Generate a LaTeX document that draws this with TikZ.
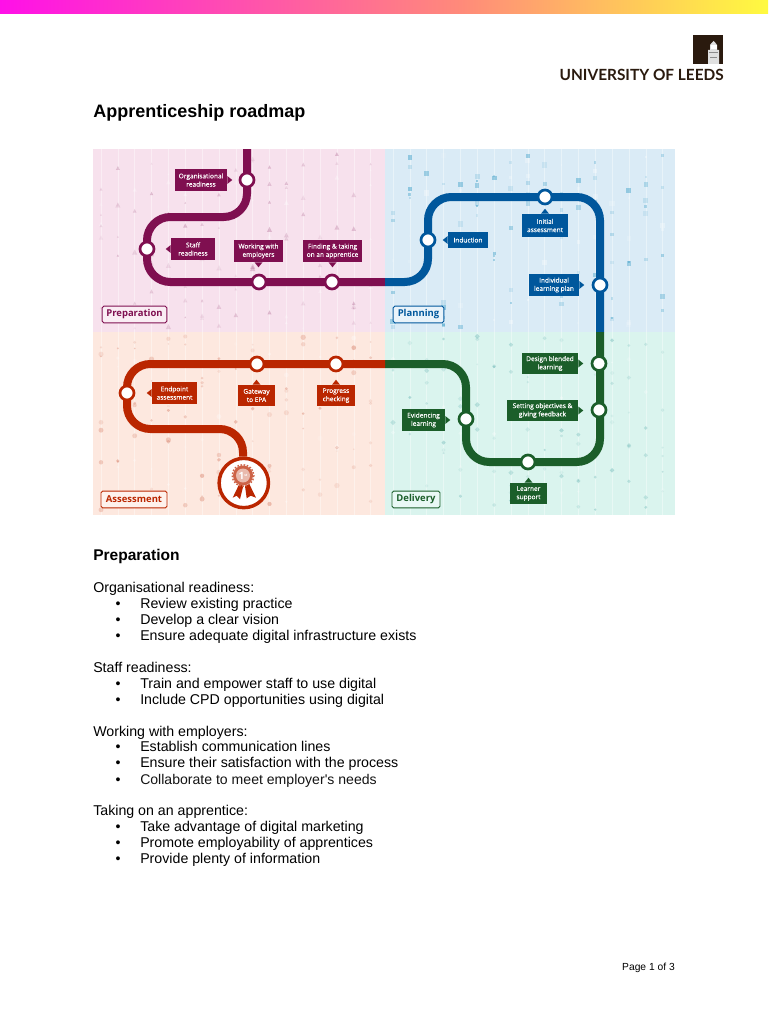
\documentclass[tikz,border=0pt]{standalone}
\usepackage{fontspec}
\setmainfont{Liberation Sans}
\newfontfamily\plainsans{Liberation Sans}
\newfontfamily\osans{Open Sans}
\newfontfamily\osanscall[FakeBold=0.35]{Open Sans}
\newfontfamily\lato{Lato}
\definecolor{cpurple}{HTML}{7F0F50}
\definecolor{cblue}{HTML}{00579C}
\definecolor{cgreen}{HTML}{1B5E2A}
\definecolor{cred}{HTML}{BA2600}
\definecolor{bgpink}{HTML}{F7E1ED}
\definecolor{bgblue}{HTML}{DAEBF6}
\definecolor{bgpeach}{HTML}{FDE8DF}
\definecolor{bgmint}{HTML}{DAF4EE}
\definecolor{bar1}{HTML}{FF10E8}
\definecolor{bar2}{HTML}{FF8A7A}
\definecolor{bar3}{HTML}{FFFA40}
\definecolor{logobrown}{HTML}{2A1A0E}
\tikzset{
  track/.style={line width=6pt,rounded corners=17.5pt},
  stationring/.style={circle,fill=white,draw=#1,line width=2pt,minimum size=10.5pt,inner sep=0pt},
  calloutbox/.style={fill=#1,text=white,inner sep=0pt,align=center,font=\osanscall\fontsize{4.9}{6.2}\selectfont},
  tagbox/.style={draw=#1,text=#1,line width=.7pt,rounded corners=1.2pt,inner sep=0pt,font=\osans\bfseries\fontsize{7.1}{8}\selectfont},
  bodytext/.style={anchor=base west,inner sep=0pt,font=\fontsize{10.65}{12}\selectfont},
  headtext/.style={anchor=base west,inner sep=0pt,font=\bfseries\fontsize{11.65}{13}\selectfont},
  bullet/.style={anchor=base,inner sep=0pt,font=\fontsize{10.65}{12}\selectfont}
}
% callout: name, x0, y0, x1, y1, colour, text
\newcommand\callbox[7]{\node[calloutbox=#6,minimum width={(#4-#2)*0.75pt},minimum height={(#5-#3)*0.75pt}] (#1) at ({(#2+#4)/2},{(#3+#5)/2}) {#7};}
\newcommand\ptright[2]{\fill[#2] (#1.east)+(0,-4)--+(5,0)--+(0,4)--cycle;}
\newcommand\ptleft[2]{\fill[#2] (#1.west)+(0,-4)--+(-5,0)--+(0,4)--cycle;}
\newcommand\ptup[2]{\fill[#2] (#1.north)+(-4,0)--+(0,-5)--+(4,0)--cycle;}
\newcommand\ptdown[2]{\fill[#2] (#1.south)+(-4,0)--+(0,5)--+(4,0)--cycle;}
% background pattern: x0, y0, y1, colour, kind
\newcommand\bgscatter[5]{%
  \foreach \i in {0,...,16}{%
    \pgfmathsetmacro\xx{#1+8+\i*16.85}%
    \draw[white,opacity=.4,line width=.35pt] (\xx,#2)--(\xx,#3);%
    \foreach \k in {1,...,7}{%
      \pgfmathsetmacro\yy{#2+4+rnd*(#3-#2-8)}%
      \pgfmathsetmacro\ss{.9+rnd*1.8}%
      \pgfmathsetmacro\op{.08+rnd*.27}%
      \pgfmathtruncatemacro\wh{rnd<.25 ? 1 : 0}%
      \ifnum\wh=1 \def\cc{white}\else\def\cc{#4}\fi
      \ifcase#5\relax
        \fill[\cc,opacity=\op] (\xx,\yy-\ss)--(\xx+\ss,\yy+\ss)--(\xx-\ss,\yy+\ss)--cycle;%
      \or
        \fill[\cc,opacity=\op] (\xx-\ss,\yy-\ss) rectangle (\xx+\ss,\yy+\ss);%
      \or
        \fill[\cc,opacity=\op] (\xx,\yy) circle[radius=\ss];%
      \or
        \fill[\cc,opacity=\op] (\xx,\yy-\ss)--(\xx+\ss,\yy)--(\xx,\yy+\ss)--(\xx-\ss,\yy)--cycle;%
      \fi
    }%
  }%
}
\begin{document}
\begin{tikzpicture}[x=0.75pt,y=-0.75pt]
\useasboundingbox (0,0) rectangle (768,1024);
\fill[white] (0,0) rectangle (768,1024);
% top bar
\fill[left color=bar1,right color=bar2] (0,0) rectangle (460,14);
\fill[left color=bar2,right color=bar3] (460,0) rectangle (768,14);
% logo
\fill[logobrown] (693,35) rectangle (723,64);
\fill[black!12] (708,64)--(708,50)--(710,50)--(710,45)--(711.5,43)--(713.5,41)--(715.5,43)--(717,45)--(717,50)--(719,50)--(719,64)--cycle;
\fill[white] (710.5,45.5) rectangle (716.5,49);
\draw[black!45,line width=.3pt] (709,52)--(718,52) (710,57)--(717,57);
\node[anchor=base east,inner sep=0pt,font=\lato\bfseries\fontsize{11.55}{12}\selectfont,text=logobrown] (logotext) at (724,80) {UNIVERSITY OF LEEDS};
% title
\node[anchor=base west,inner sep=0pt,font=\bfseries\fontsize{13.5}{15}\selectfont] (title) at (93,117.5) {Apprenticeship roadmap};
% quadrants
\fill[bgpink] (93,149) rectangle (385,332);
\fill[bgblue] (385,149) rectangle (675,332);
\fill[bgpeach] (93,332) rectangle (385,515);
\fill[bgmint] (385,332) rectangle (675,515);
\pgfmathsetseed{4242}
\begin{scope}
\clip (93,149) rectangle (385,332);
\bgscatter{93}{149}{332}{cpurple!70!white}{0}
\end{scope}
\begin{scope}
\clip (385,149) rectangle (675,332);
\bgscatter{385}{149}{332}{cblue!75!cyan}{1}
\end{scope}
\begin{scope}
\clip (93,332) rectangle (385,515);
\bgscatter{93}{332}{515}{cred!75!white}{2}
\end{scope}
\begin{scope}
\clip (385,332) rectangle (675,515);
\bgscatter{385}{332}{515}{teal!70!white}{3}
\end{scope}
% track way points
\coordinate (pa) at (247,149); \coordinate (pb) at (247,217); \coordinate (pc) at (147,217);
\coordinate (pd) at (147,282); \coordinate (pe) at (385,282);
\coordinate (ba) at (428,282); \coordinate (bb) at (428,197); \coordinate (bc) at (600,197); \coordinate (bd) at (600,332);
\coordinate (ga) at (600,462); \coordinate (gb) at (466,462); \coordinate (gc) at (466,364); \coordinate (gd) at (385,364);
\coordinate (ra) at (127,364); \coordinate (rb) at (127,429); \coordinate (rc) at (243,429);
\node[circle,fill=white,draw=cred,line width=2.6pt,minimum size=37pt,inner sep=0pt] (medal) at (243.8,483) {};
\draw[track,cpurple] (pa)--(pb)--(pc)--(pd)--(pe);
\draw[track,cblue] (pe)--(ba)--(bb)--(bc)--(bd);
\draw[track,cgreen] (bd)--(ga)--(gb)--(gc)--(gd);
\draw[track,cred] (gd)--(ra)--(rb)--(rc)--(rc |- medal.north);
% medal
\fill[cred] (239.3,484)--(232.7,497.7)--(236.7,495.7)--(240,499)--(243.3,486)--cycle;
\fill[cred] (245,486)--(246.7,498.3)--(250.7,495.7)--(256,497.7)--(249.3,484)--cycle;
\fill[cred!72!white] (243,475.5) circle[radius=10];
\draw[cred!72!white,line width=1.1pt,dash pattern=on 1.2pt off 1.2pt] (243,475.5) circle[radius=10.8];
\fill[cred!32!white] (243,475.5) circle[radius=7];
\node[inner sep=0pt,text=white,font=\osans\bfseries\fontsize{7.5}{8}\selectfont] (medalnum) at (243,475.5) {1\raisebox{2pt}{\fontsize{2.5}{3}\selectfont st}};
% stations
\node[stationring=cpurple] (s1) at (247,180) {};
\node[stationring=cpurple] (s2) at (147,249) {};
\node[stationring=cpurple] (s3) at (259,282) {};
\node[stationring=cpurple] (s4) at (332,282) {};
\node[stationring=cblue] (s5) at (428,240) {};
\node[stationring=cblue] (s6) at (545,197) {};
\node[stationring=cblue] (s7) at (600,285) {};
\node[stationring=cgreen] (s8) at (599,363.5) {};
\node[stationring=cgreen] (s9) at (599,410) {};
\node[stationring=cgreen] (s10) at (466,419) {};
\node[stationring=cgreen] (s11) at (528,462) {};
\node[stationring=cred] (s12) at (127,393) {};
\node[stationring=cred] (s13) at (257,364) {};
\node[stationring=cred] (s14) at (336,364) {};
% callouts
\callbox{c1}{175}{169}{227}{191}{cpurple}{Organisational\\readiness}\ptright{c1}{cpurple}
\callbox{c2}{171}{238}{215}{260}{cpurple}{Staff\\readiness}\ptleft{c2}{cpurple}
\callbox{c3}{234}{240}{283}{262}{cpurple}{Working with\\employers}\ptdown{c3}{cpurple}
\callbox{c4}{303}{240}{362}{262}{cpurple}{Finding \& taking\\on an apprentice}\ptdown{c4}{cpurple}
\callbox{c5}{448}{232}{488}{248}{cblue}{Induction}\ptleft{c5}{cblue}
\callbox{c6}{522}{214}{568}{237}{cblue}{Initial\\assessment}\ptup{c6}{cblue}
\callbox{c7}{529}{274}{579}{296}{cblue}{Individual\\learning plan}\ptright{c7}{cblue}
\callbox{c8}{522}{353}{578}{374}{cgreen}{Design blended\\learning}\ptright{c8}{cgreen}
\callbox{c9}{507}{400}{578}{421}{cgreen}{Setting objectives \&\\giving feedback}\ptright{c9}{cgreen}
\callbox{c10}{402}{409}{445}{431}{cgreen}{Evidencing\\learning}\ptright{c10}{cgreen}
\callbox{c11}{510}{483}{547}{504}{cgreen}{Learner\\support}\ptup{c11}{cgreen}
\callbox{c12}{152}{382}{197}{404}{cred}{Endpoint\\assessment}\ptleft{c12}{cred}
\callbox{c13}{238}{385}{275}{406}{cred}{Gateway\\to EPA}\ptup{c13}{cred}
\callbox{c14}{317}{385}{355}{406}{cred}{Progress\\checking}\ptup{c14}{cred}
% quadrant tags
\node[tagbox=cpurple,fill=bgpink!60!white,minimum width=48.5pt,minimum height=12.5pt] (t1) at (134.5,314.5) {Preparation};
\node[tagbox=cblue,fill=bgblue!60!white,minimum width=38pt,minimum height=12.5pt] (t2) at (418.5,314.5) {Planning};
\node[tagbox=cred,fill=bgpeach!60!white,minimum width=49.5pt,minimum height=12.5pt] (t3) at (134,499.5) {Assessment};
\node[tagbox=cgreen,fill=bgmint!60!white,minimum width=36pt,minimum height=12.5pt] (t4) at (416,499.5) {Delivery};
% body
\node[headtext] (h1) at (93,560.5) {Preparation};
\node[bodytext] (b1) at (93,592) {Organisational readiness:};
\node[bullet] (d1) at (118,608) {•}; \node[bodytext] (l1) at (140,608) {Review existing practice};
\node[bullet] (d2) at (118,624) {•}; \node[bodytext] (l2) at (140,624) {Develop a clear vision};
\node[bullet] (d3) at (118,640) {•}; \node[bodytext] (l3) at (140,640) {Ensure adequate digital infrastructure exists};
\node[bodytext] (b2) at (93,672) {Staff readiness:};
\node[bullet] (d4) at (118,688) {•}; \node[bodytext] (l4) at (140,688) {Train and empower staff to use digital};
\node[bullet] (d5) at (118,704) {•}; \node[bodytext] (l5) at (140,704) {Include CPD opportunities using digital};
\node[bodytext] (b3) at (93,736) {Working with employers:};
\node[bullet] (d6) at (118,751) {•}; \node[bodytext] (l6) at (140,751) {Establish communication lines};
\node[bullet] (d7) at (118,767) {•}; \node[bodytext] (l7) at (140,767) {Ensure their satisfaction with the process};
\node[bullet] (d8) at (118,784) {•}; \node[bodytext,text=black!92] (l8) at (140,784) {\plainsans\fontsize{10.55}{12}\selectfont Collaborate to meet employer's needs};
\node[bodytext] (b4) at (93,815) {Taking on an apprentice:};
\node[bullet] (d9) at (118,831) {•}; \node[bodytext] (l9) at (140,831) {Take advantage of digital marketing};
\node[bullet] (d10) at (118,847) {•}; \node[bodytext] (l10) at (140,847) {Promote employability of apprentices};
\node[bullet] (d11) at (118,863) {•}; \node[bodytext] (l11) at (140,863) {Provide plenty of information};
\node[anchor=base east,inner sep=0pt,font=\fontsize{7.7}{10}\selectfont] (foot) at (675,970) {Page 1 of 3};
\end{tikzpicture}
\end{document}
